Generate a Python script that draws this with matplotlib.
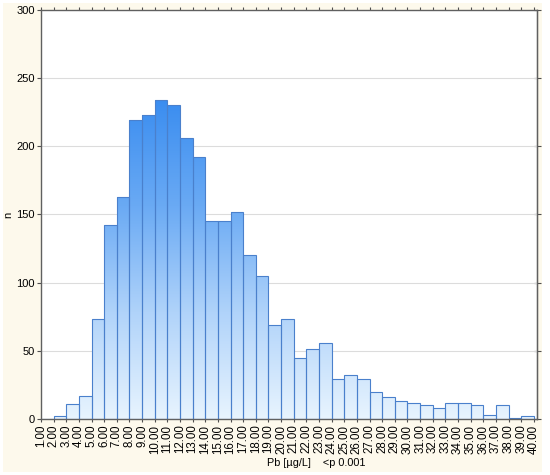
import numpy as np
import matplotlib
matplotlib.use("Agg")
import matplotlib.pyplot as plt
import matplotlib.path as mpath
from matplotlib.colors import LinearSegmentedColormap
from matplotlib.patches import Rectangle

plt.rcParams['font.family'] = ['Liberation Sans', 'DejaVu Sans']

# bin edges (Pb, µg/L) and counts
bin_edges = list(range(1, 41))
counts = [0, 2, 11, 17, 73, 142, 163, 219, 223, 234, 230, 206, 192, 145, 145,
          152, 120, 105, 69, 73, 45, 51, 56, 29, 32, 29, 20, 16, 13, 12,
          10, 8, 12, 12, 10, 3, 10, 1, 2]
tick_labels = [f"{v:.2f}" for v in bin_edges]
y_ticks = [0, 50, 100, 150, 200, 250, 300]
x_label = "Pb [µg/L]    <p 0.001"
y_label = "n"

W, H = 550, 475
fig = plt.figure(figsize=(W / 100, H / 100), dpi=100, facecolor='white')
fig.patches.append(Rectangle((3 / W, 3 / H), 539 / W, 469 / H, transform=fig.transFigure,
                             facecolor='#fdf9ec', edgecolor='none', zorder=-10))

ax = fig.add_axes([41 / W, 1 - 419 / H, 496 / W, 409 / H])
ax.set_facecolor('white')

xmin, xmax = 1, 40.25
edge_color = '#4a80cc'
bars = ax.bar(bin_edges[:-1], counts, width=1, align='edge', facecolor='none',
              edgecolor=edge_color, linewidth=0.8, zorder=3)

# vertical gradient fill clipped to the bars
cmap = LinearSegmentedColormap.from_list('g', ['#e8f4fe', '#b0d3fa', '#6aaaf4', '#3a8df0'])
grad = np.linspace(0, 1, 256).reshape(-1, 1)
img = ax.imshow(grad, cmap=cmap, origin='lower', aspect='auto',
                extent=(xmin, xmax, 0, max(counts)), zorder=2, interpolation='bilinear')
paths = [b.get_path().transformed(b.get_patch_transform()) for b in bars if b.get_height() > 0]
compound = mpath.Path.make_compound_path(*paths)
img.set_clip_path(compound, transform=ax.transData)

ax.set_xlim(xmin, xmax)
ax.set_ylim(0, 300)
ax.set_yticks(y_ticks)
ax.set_xticks(bin_edges)
ax.set_xticklabels(tick_labels, rotation=90, fontsize=8.3)
ax.tick_params(axis='y', labelsize=8.0, length=3, width=0.8, color='#505050', pad=1.5)
ax.tick_params(axis='x', length=2, width=0.8, color='#505050', pad=2)
ax.tick_params(top=True, right=True, which='both', direction='in')
ax.tick_params(axis='x', which='major', bottom=True, direction='out')
ax.tick_params(axis='y', which='major', left=True, direction='out')
ax.secondary_yaxis('right').tick_params(direction='in', length=2, labelright=False)

for y in y_ticks[1:-1]:
    ax.axhline(y, color='#dcdcdc', linewidth=0.8, zorder=1)

for s in ax.spines.values():
    s.set_color('#606060')
    s.set_linewidth(1.0)
    s.set_zorder(5)

ax.set_xlabel(x_label, fontsize=7.8)
ax.xaxis.set_label_coords((316 - 41) / 496, -(463 - 419) / 409)
ax.xaxis.label.set_va('center')
ax.set_ylabel(y_label, fontsize=8)
ax.yaxis.set_label_coords((8 - 41) / 496, 0.5)
ax.yaxis.label.set_va('center')

fig.savefig('out.png', dpi=100, facecolor=fig.get_facecolor())
